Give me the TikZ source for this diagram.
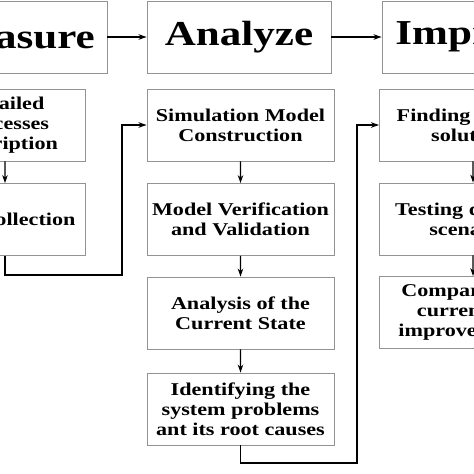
\documentclass[tikz,border=0pt]{standalone}
\usepackage{fontspec}
\setmainfont{Liberation Serif}
\usepackage{tikz}
\usetikzlibrary{arrows.meta}

\tikzset{>={Stealth[length=8pt,width=5.5pt]}}
\tikzset{stage/.style={draw=gray!85,line width=0.8pt,xscale=1.23,transform shape,inner sep=2pt,minimum width=149.5pt,minimum height=72pt,font=\bfseries\fontsize{35}{40}\selectfont}}
\tikzset{task/.style={draw=gray!85,line width=0.8pt,xscale=1.23,transform shape,inner sep=2pt,minimum width=152pt,minimum height=72pt,align=center,font=\bfseries\fontsize{18}{20}\selectfont}}
\tikzset{flow/.style={->,line width=1.3pt}}

\begin{document}
\begin{tikzpicture}[x=1pt,y=1pt]
\useasboundingbox (0,0) rectangle (474,-474);
\clip (0,0) rectangle (474,-474);
\fill[white] (0,0) rectangle (474,-474);
% phases
\node[stage] (meas) at (15,-37) {Measure};
\node[stage] (anal) at (239,-37) {Analyze};
\node[stage] (impr) at (474,-37) {Improve};
\draw[flow] (meas) -- (anal);
\draw[flow] (anal) -- (impr);
% measure column
\node[task,minimum width=130pt] (desc) at (5,-125) {Detailed\\processes\\description};
\node[task,minimum width=130pt] (coll) at (5,-219.5) {Data collection};
% analyze column
\node[task] (sim) at (240.5,-125) {Simulation Model\\Construction};
\node[task] (valid) at (240.5,-219.5) {Model Verification\\and Validation};
\node[task] (state) at (240.5,-313) {Analysis of the\\Current State};
\node[task] (cause) at (240.5,-409) {Identifying the\\system problems\\ant its root causes};
% improve column
\node[task] (sol) at (473,-125) {Finding the best\\solutions};
\node[task] (scen) at (473,-219) {Testing different\\scenarios};
\node[task] (comp) at (473,-312.5) {Comparing the\\current and\\improved states};
\coordinate (j1) at (122,-275);
\coordinate (j2) at (357,-463);
\foreach \a/\b in {desc/coll,sim/valid,valid/state,state/cause,sol/scen,scen/comp} {
	\draw[flow] (\a) -- (\b);
}
\draw[flow] (coll.south) |- (j1) |- (sim.west);
\draw[flow] (cause.south) |- (j2) |- (sol.west);
\end{tikzpicture}
\end{document}
